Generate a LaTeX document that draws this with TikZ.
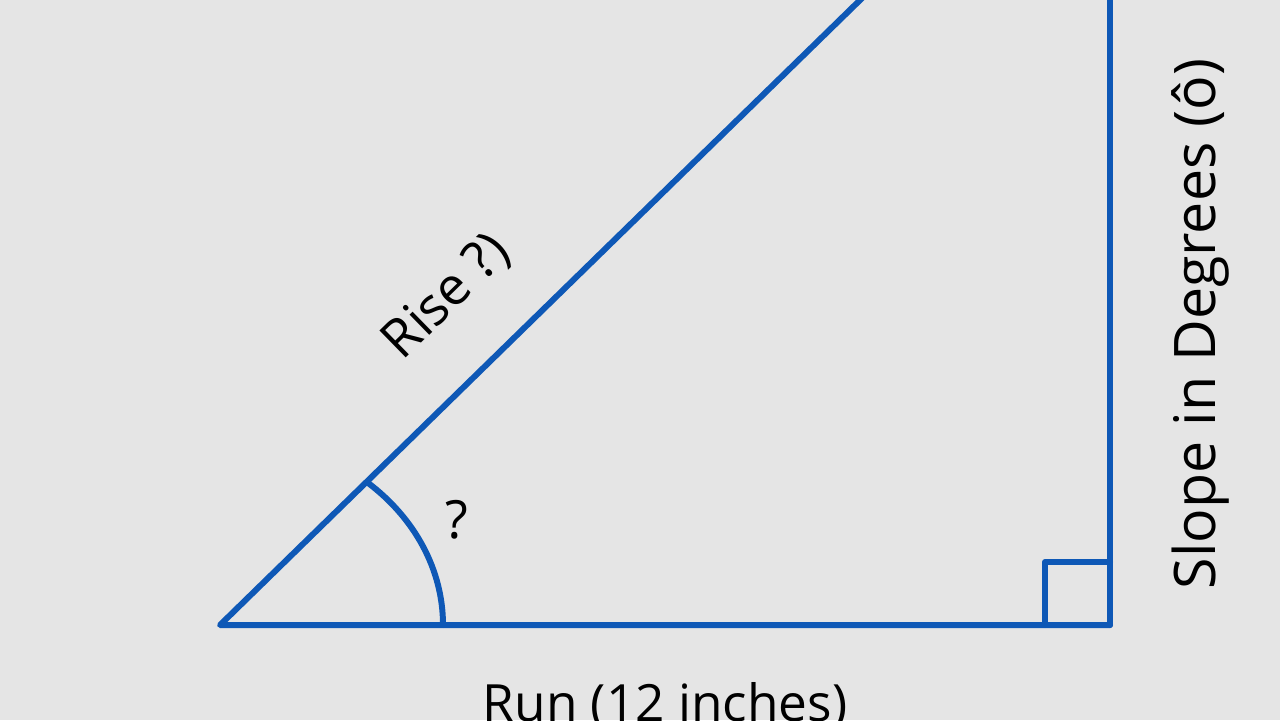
\documentclass[tikz,border=0pt]{standalone}
\usepackage{fontspec}
\setmainfont{Open Sans}
\usepackage{tikz}
\usetikzlibrary{positioning}
\definecolor{bgray}{RGB}{229,229,229}
\definecolor{lineblue}{RGB}{14,88,182}

\begin{document}
\begin{tikzpicture}[x=0.01cm, y=0.01cm, line cap=round, line join=round,
    side/.style={draw=lineblue, line width=1.7pt},
    lbl/.style={font=\fontsize{15}{18}\selectfont, text=black, inner sep=0pt}]
        % frame
        \useasboundingbox (0,0) rectangle (1280,720);
        \fill[bgray] (0,0) rectangle (1280,720);
        \clip (0,0) rectangle (1280,720);

        % triangle corners
        \coordinate (A) at (220,95);
        \coordinate (B) at (1110,95);
        \coordinate (C) at (1110,964);

        % sides
        \draw[side] (B) -- (A) -- (C);
        \draw[side] (B) -- (C);

        % right angle mark
        \draw[side] (1045,95) -- (1045,158) -- (1110,158);

        % angle at A
        \draw[side] (443,95) arc[start angle=0, end angle=48.8, x radius=223, y radius=190];
        \node[lbl] (q) at (457,200) {?};

        % labels
        \node[lbl, rotate=44.3] (rise) at (447,423) {Rise ?)};
        \node[lbl, rotate=90, font=\fontsize{16.3}{19}\selectfont] (slope) at (1200,396) {Slope in Degrees (ô)};
        \node[lbl, anchor=base, font=\fontsize{14.6}{17}\selectfont] (run) at (665,-1) {Run (12 inches)};
\end{tikzpicture}
\end{document}
